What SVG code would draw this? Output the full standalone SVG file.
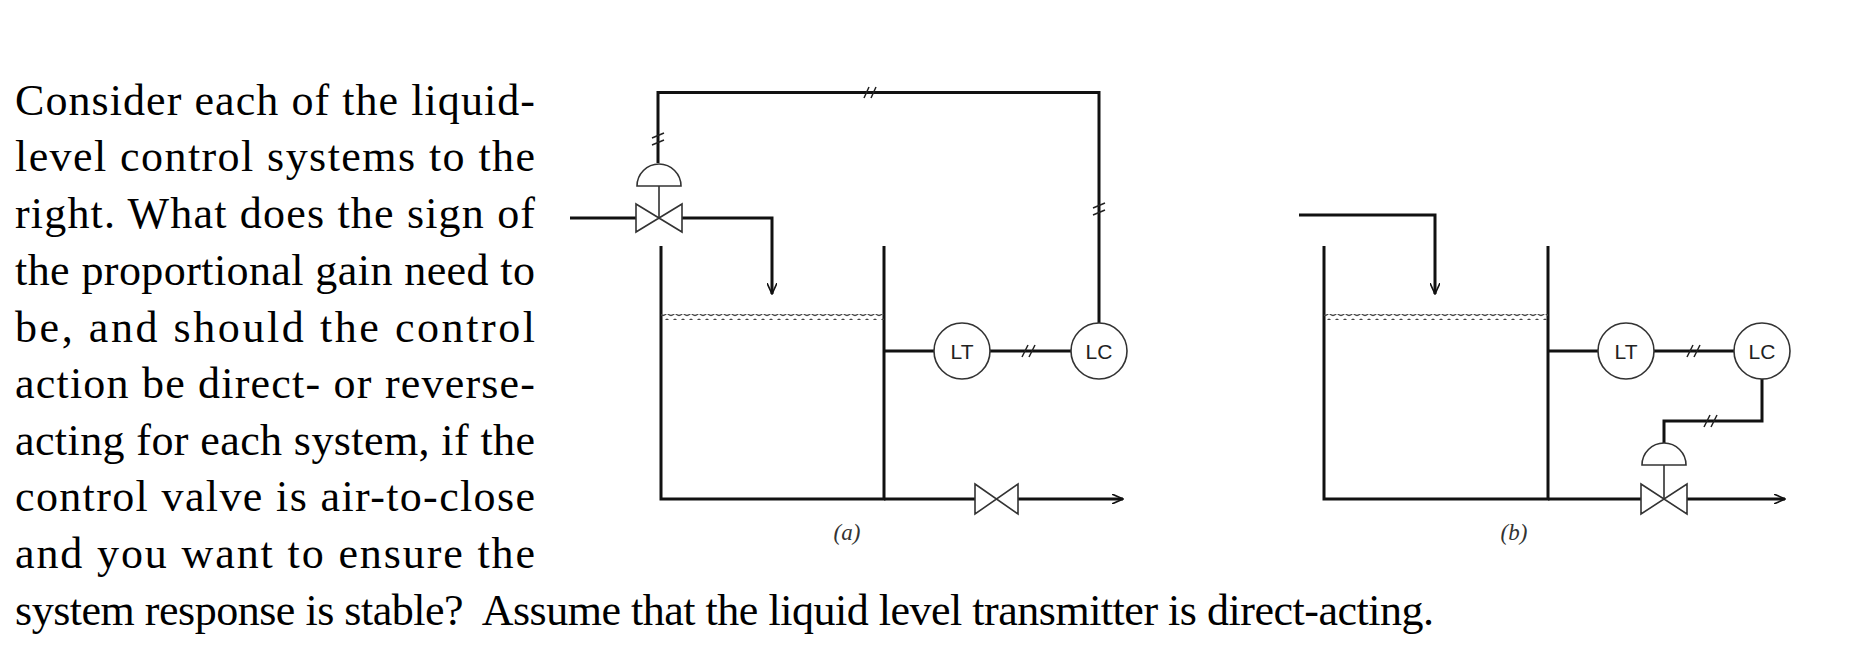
<svg xmlns="http://www.w3.org/2000/svg" width="1852" height="660" viewBox="0 0 1852 660">
<defs>
<style>
.p{fill:none;stroke:#111;stroke-width:3}
.s{fill:none;stroke:#222;stroke-width:1.5}
.v{fill:#fff;stroke:#333;stroke-width:1.6}
.t{font-family:"Liberation Serif",serif;font-size:44px;fill:#000}
.c{font-family:"Liberation Sans",Arial,sans-serif;font-size:21px;fill:#222;text-anchor:middle}
.l{font-family:"Liberation Serif",serif;font-style:italic;font-size:23px;fill:#333;text-anchor:middle}
</style>
<marker id="ah" viewBox="0 0 12 10" refX="11" refY="5" markerWidth="12" markerHeight="10" markerUnits="userSpaceOnUse" orient="auto"><path d="M0,0 L11,5 L0,10" fill="none" stroke="#111" stroke-width="1.6"/></marker>
<pattern id="wv" x="0" y="0" width="8" height="6" patternUnits="userSpaceOnUse"><path d="M0,1 Q4,6 8,1" fill="none" stroke="#444" stroke-width="1.4"/></pattern>
</defs>
<rect width="1852" height="660" fill="#fff"/>
<g id="text">
<text class="t" x="15" y="115" textLength="520" lengthAdjust="spacing">Consider each of the liquid-</text>
<text class="t" x="15" y="171" textLength="520" lengthAdjust="spacing">level control systems to the</text>
<text class="t" x="15" y="228" textLength="520" lengthAdjust="spacing">right. What does the sign of</text>
<text class="t" x="15" y="285" textLength="520" lengthAdjust="spacing">the proportional gain need to</text>
<text class="t" x="15" y="342" textLength="520" lengthAdjust="spacing">be, and should the control</text>
<text class="t" x="15" y="398" textLength="520" lengthAdjust="spacing">action be direct- or reverse-</text>
<text class="t" x="15" y="455" textLength="520" lengthAdjust="spacing">acting for each system, if the</text>
<text class="t" x="15" y="511" textLength="520" lengthAdjust="spacing">control valve is air-to-close</text>
<text class="t" x="15" y="568" textLength="520" lengthAdjust="spacing">and you want to ensure the</text>
<text class="t" x="15" y="625" textLength="1419" lengthAdjust="spacing" xml:space="preserve">system response is stable?  Assume that the liquid level transmitter is direct-acting.</text>
</g>
<g id="connectors">
<g transform="translate(-5,0)">
<path class="p" d="M575,218 H641 M687,218 H777 V294" marker-end="url(#ah)"/>
<path class="p" d="M666,246 V499 H889 V246"/>
<path class="p" d="M889,499 H980 M1023,499 H1128" marker-end="url(#ah)"/>
<path class="p" d="M889,351 H939 M995,351 H1076"/>
<path class="p" d="M663,163 V92.6 H1104 V323"/>
<path class="s" d="M664,186 V218"/>
<rect x="666" y="314" width="223" height="6" fill="url(#wv)"/>
<path class="s" d="M869,98 L874,87 M876,98 L881,87"/>
<path class="s" d="M657,138 L669,133 M657,145 L669,140"/>
<path class="s" d="M1098,208 L1110,203 M1098,215 L1110,210"/>
<path class="s" d="M1027,357 L1033,345 M1034,357 L1040,345"/>
</g>
<g transform="translate(-7,0)">
<path class="p" d="M1306,215 H1442 V294" marker-end="url(#ah)"/>
<path class="p" d="M1331,246 V499 H1555 V246"/>
<path class="p" d="M1555,499 H1648 M1694,499 H1792" marker-end="url(#ah)"/>
<path class="p" d="M1555,351 H1605 M1661,351 H1741"/>
<path class="p" d="M1769,379 V421 H1671 V445"/>
<path class="s" d="M1671,465 V499"/>
<rect x="1331" y="314" width="224" height="6" fill="url(#wv)"/>
<path class="s" d="M1694,357 L1700,345 M1701,357 L1707,345"/>
<path class="s" d="M1711,427 L1717,415 M1718,427 L1724,415"/>
</g>
</g>
<g id="valveA_in" transform="translate(-5,0)"><path class="v" d="M686,186 A22,22 0 0 0 642,186 Z"/><path class="v" d="M641,204 L687,232 V204 L641,232 Z"/></g>
<g id="valveA_out" transform="translate(-5,0)"><path class="v" d="M980,484 L1023,514 V484 L980,514 Z"/></g>
<g id="LT_a"><circle class="v" cx="962" cy="351" r="28"/><text class="c" x="962" y="359">LT</text></g>
<g id="LC_a"><circle class="v" cx="1099" cy="351" r="28"/><text class="c" x="1099" y="359">LC</text></g>
<text class="l" x="847" y="540">(a)</text>
<g id="valveB" transform="translate(-7,0)"><path class="v" d="M1693,465 A22,22 0 0 0 1649,465 Z"/><path class="v" d="M1648,484 L1694,514 V484 L1648,514 Z"/></g>
<g id="LT_b"><circle class="v" cx="1626" cy="351" r="28"/><text class="c" x="1626" y="359">LT</text></g>
<g id="LC_b"><circle class="v" cx="1762" cy="351" r="28"/><text class="c" x="1762" y="359">LC</text></g>
<text class="l" x="1514" y="540">(b)</text>
</svg>
